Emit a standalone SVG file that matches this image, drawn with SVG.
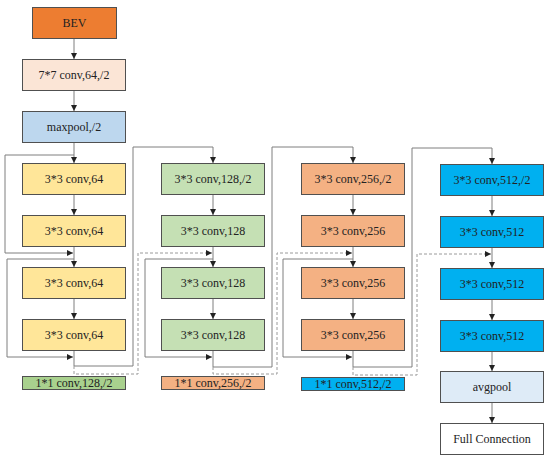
<svg xmlns="http://www.w3.org/2000/svg" width="550" height="461" viewBox="0 0 550 461">
<style>
.b{stroke:#505050;stroke-width:1}
.t{font-family:"Liberation Serif","Times New Roman",serif;font-size:12px;fill:#222;text-anchor:middle;dominant-baseline:central}
.c{fill:none;stroke:#7f7f7f;stroke-width:1}
.d{fill:none;stroke:#9a9a9a;stroke-width:1;stroke-dasharray:3,2}
.a{marker-end:url(#ah)}
</style>
<defs>
<marker id="ah" markerUnits="userSpaceOnUse" markerWidth="6" markerHeight="6" refX="6" refY="3" orient="auto">
<path d="M0,0 L6,3 L0,6 z" fill="#222"/>
</marker>
</defs>
<rect width="550" height="461" fill="#fff"/>
<g id="connectors">
<!-- column 1 -->
<path class="c a" d="M74,39 V59"/>
<path class="c a" d="M74,90 V111"/>
<path class="c a" d="M74,142 V163"/>
<path class="c a" d="M74,194 V215"/>
<path class="c a" d="M74,246 V267"/>
<path class="c a" d="M74,298 V319"/>
<path class="c a" d="M74,155 H5 V253 H73"/>
<path class="c a" d="M74,259 H7 V357 H73"/>
<path class="c a" d="M74,350 V366 H133 V147 H213 V163"/>
<path class="d a" d="M74,366 V374 H138 V253 H212"/>
<!-- column 2 -->
<path class="c a" d="M213,194 V215"/>
<path class="c a" d="M213,246 V267"/>
<path class="c a" d="M213,298 V319"/>
<path class="c a" d="M213,259 H145 V357 H212"/>
<path class="c a" d="M213,350 V367 H272 V147 H353 V163"/>
<path class="d a" d="M213,367 V374 H277 V253 H352"/>
<!-- column 3 -->
<path class="c a" d="M353,194 V215"/>
<path class="c a" d="M353,246 V267"/>
<path class="c a" d="M353,298 V319"/>
<path class="c a" d="M353,259 H283 V357 H352"/>
<path class="c a" d="M353,350 V367 H412 V148 H492 V164"/>
<path class="d a" d="M353,367 V375 H417 V254 H491"/>
<!-- column 4 -->
<path class="c a" d="M492,195 V216"/>
<path class="c a" d="M492,247 V268"/>
<path class="c a" d="M492,299 V320"/>
<path class="c a" d="M492,351 V371"/>
<path class="c a" d="M492,403 V423"/>
</g>
<g id="bev"><rect class="b" x="32.5" y="7.5" width="84" height="31" fill="#ED7D31"/><text class="t" x="74.5" y="23">BEV</text></g>
<g id="conv7"><rect class="b" x="22.5" y="59.5" width="103" height="31" fill="#FBE5D6"/><text class="t" x="74" y="75">7*7 conv,64,/2</text></g>
<g id="maxpool"><rect class="b" x="22.5" y="111.5" width="103" height="31" fill="#BDD7EE"/><text class="t" x="74" y="127">maxpool,/2</text></g>

<g id="c1b1"><rect class="b" x="22.5" y="163.5" width="103" height="31" fill="#FFE699"/><text class="t" x="74" y="179">3*3 conv,64</text></g>
<g id="c1b2"><rect class="b" x="22.5" y="215.5" width="103" height="31" fill="#FFE699"/><text class="t" x="74" y="231">3*3 conv,64</text></g>
<g id="c1b3"><rect class="b" x="22.5" y="267.5" width="103" height="31" fill="#FFE699"/><text class="t" x="74" y="283">3*3 conv,64</text></g>
<g id="c1b4"><rect class="b" x="22.5" y="319.5" width="103" height="31" fill="#FFE699"/><text class="t" x="74" y="335">3*3 conv,64</text></g>
<g id="c1s"><rect class="b" x="22.5" y="376.5" width="103" height="13" fill="#A9D18E"/><text class="t" x="74" y="383">1*1 conv,128,/2</text></g>

<g id="c2b1"><rect class="b" x="161.5" y="163.5" width="103" height="31" fill="#C5E0B4"/><text class="t" x="213" y="179">3*3 conv,128,/2</text></g>
<g id="c2b2"><rect class="b" x="161.5" y="215.5" width="103" height="31" fill="#C5E0B4"/><text class="t" x="213" y="231">3*3 conv,128</text></g>
<g id="c2b3"><rect class="b" x="161.5" y="267.5" width="103" height="31" fill="#C5E0B4"/><text class="t" x="213" y="283">3*3 conv,128</text></g>
<g id="c2b4"><rect class="b" x="161.5" y="319.5" width="103" height="31" fill="#C5E0B4"/><text class="t" x="213" y="335">3*3 conv,128</text></g>
<g id="c2s"><rect class="b" x="161.5" y="376.5" width="103" height="13" fill="#F4B183"/><text class="t" x="213" y="383">1*1 conv,256,/2</text></g>

<g id="c3b1"><rect class="b" x="301.5" y="163.5" width="103" height="31" fill="#F4B183"/><text class="t" x="353" y="179">3*3 conv,256,/2</text></g>
<g id="c3b2"><rect class="b" x="301.5" y="215.5" width="103" height="31" fill="#F4B183"/><text class="t" x="353" y="231">3*3 conv,256</text></g>
<g id="c3b3"><rect class="b" x="301.5" y="267.5" width="103" height="31" fill="#F4B183"/><text class="t" x="353" y="283">3*3 conv,256</text></g>
<g id="c3b4"><rect class="b" x="301.5" y="319.5" width="103" height="31" fill="#F4B183"/><text class="t" x="353" y="335">3*3 conv,256</text></g>
<g id="c3s"><rect class="b" x="301.5" y="377.5" width="103" height="13" fill="#00B0F0"/><text class="t" x="353" y="384">1*1 conv,512,/2</text></g>

<g id="c4b1"><rect class="b" x="440.5" y="164.5" width="103" height="31" fill="#00B0F0"/><text class="t" x="492" y="180">3*3 conv,512,/2</text></g>
<g id="c4b2"><rect class="b" x="440.5" y="216.5" width="103" height="31" fill="#00B0F0"/><text class="t" x="492" y="232">3*3 conv,512</text></g>
<g id="c4b3"><rect class="b" x="440.5" y="268.5" width="103" height="31" fill="#00B0F0"/><text class="t" x="492" y="284">3*3 conv,512</text></g>
<g id="c4b4"><rect class="b" x="440.5" y="320.5" width="103" height="31" fill="#00B0F0"/><text class="t" x="492" y="336">3*3 conv,512</text></g>
<g id="avgpool"><rect class="b" x="440.5" y="371.5" width="103" height="31" fill="#DEEBF7"/><text class="t" x="492" y="387">avgpool</text></g>
<g id="fc"><rect class="b" x="440.5" y="423.5" width="103" height="31" fill="#FFFFFF"/><text class="t" x="492" y="439">Full Connection</text></g>
</svg>
